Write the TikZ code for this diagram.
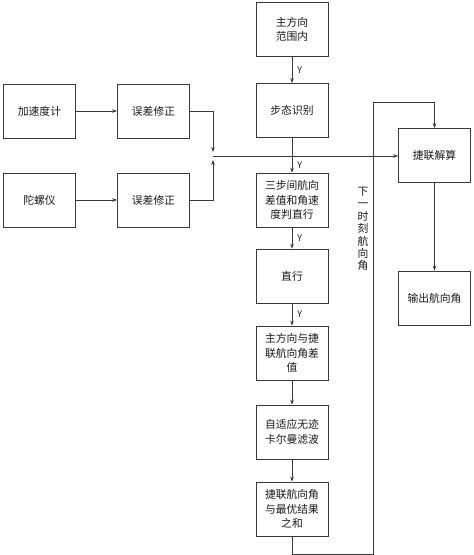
\documentclass[tikz,border=0pt]{standalone}
\usepackage{fontspec}
\setmainfont{Noto Sans CJK SC}
\usepackage{tikz}
\usetikzlibrary{arrows.meta, positioning, calc}
\definecolor{LineGray}{HTML}{3A3A3A}
\tikzset{
  % Box styles
  flowbox/.style={rectangle, draw=LineGray, line width=0.8pt, minimum width=72pt, minimum height=54pt, inner sep=2pt, font=\fontsize{10.8}{14.5}\selectfont, align=center, text=black!90},
  % Arrow styles
  arrow/.style={-{Stealth[length=5pt,width=3.6pt]}, line width=0.7pt, LineGray},
  plainline/.style={line width=0.7pt, LineGray},
  % Label styles
  ylabel/.style={font=\fontsize{9}{10}\selectfont, text=black!90, inner sep=1pt}
}
\begin{document}
\begin{tikzpicture}[x=1pt, y=-1pt]
  \useasboundingbox (0,0) rectangle (474,555);

  % Sensor side
  \node[flowbox] (acc) at (39.5,111) {加速度计};
  \node[flowbox] (accfix) at (153.5,111) {误差修正};
  \node[flowbox] (gyro) at (39.5,200) {陀螺仪};
  \node[flowbox] (gyrofix) at (153.5,200) {误差修正};

  % Main chain
  \node[flowbox] (range) at (292,29.5) {主方向\\范围内};
  \node[flowbox] (gait) at (292,110.5) {步态识别};
  \node[flowbox] (judge) at (292,200) {三步间航向\\差值和角速\\度判直行};
  \node[flowbox] (straight) at (292,276) {直行};
  \node[flowbox] (diff) at (292,353) {主方向与捷\\联航向角差\\值};
  \node[flowbox] (ukf) at (292,432) {自适应无迹\\卡尔曼滤波};
  \node[flowbox] (sum) at (292,509) {捷联航向角\\与最优结果\\之和};

  % Strapdown side
  \node[flowbox] (sins) at (434.5,155.5) {捷联解算};
  \node[flowbox] (out) at (434.5,298) {输出航向角};

  % Junction and feedback corner
  \coordinate (jn) at (213,156);
  \coordinate (jntop) at (213,152);
  \coordinate (jnbot) at (213,160);
  \coordinate (fb) at (373,102);

  % Sensor arrows
  \draw[arrow] (acc) -- (accfix);
  \draw[arrow] (gyro) -- (gyrofix);
  \draw[arrow] (accfix.east) -| (jntop);
  \draw[arrow] (gyrofix.east) -| (jnbot);
  \draw[arrow] (jn) -- (sins.west |- jn);

  % Chain arrows
  \draw[arrow] (range) -- node[ylabel, right=4pt] {Y} (gait);
  \draw[arrow] (gait) -- node[ylabel, right=4pt, pos=0.78] {Y} (judge);
  \draw[arrow] (judge) -- node[ylabel, right=4pt] {Y} (straight);
  \draw[arrow] (straight) -- node[ylabel, right=4pt] {Y} (diff);
  \draw[arrow] (diff) -- (ukf);
  \draw[arrow] (ukf) -- (sum);
  \draw[arrow] (sins) -- (out);

  % Feedback of the next heading
  \draw[arrow] (sum.south) -- ++(0,18) -| (fb) -| (sins.north);
  \node[font=\fontsize{10.8}{12.4}\selectfont, align=center, text=black!90] (nextlbl) at (363,229) {下\\一\\时\\刻\\航\\向\\角};
\end{tikzpicture}
\end{document}
